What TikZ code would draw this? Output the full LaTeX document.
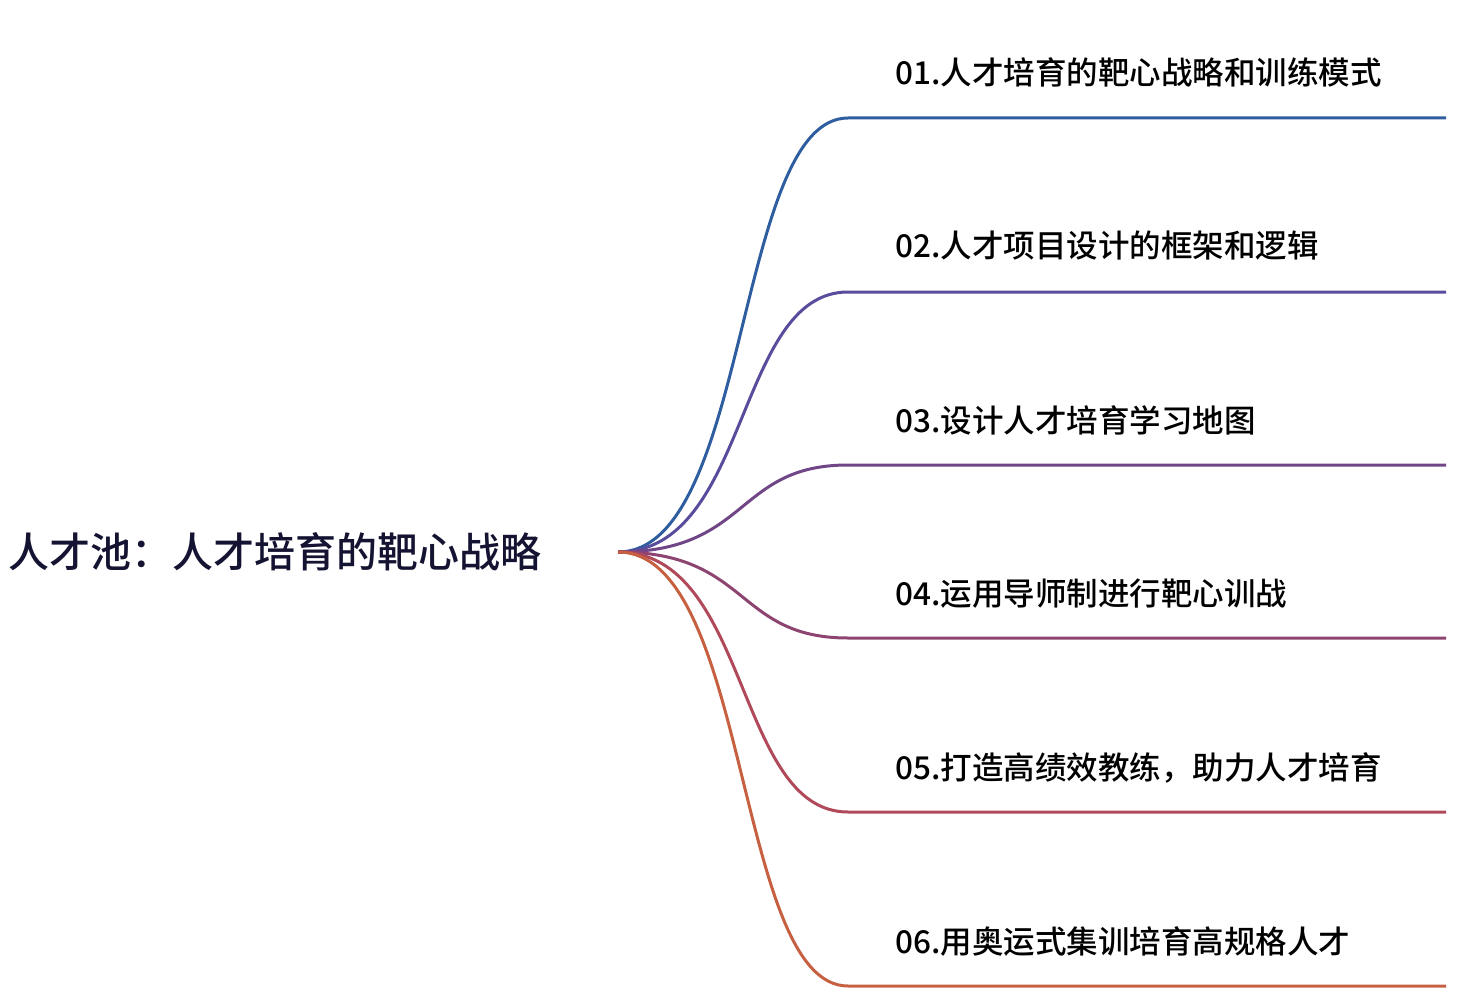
\documentclass[tikz,border=0pt]{standalone}
\usepackage{fontspec}
\setmainfont{Noto Sans CJK SC}[BoldFont={* Medium}]
\begin{document}
\begin{tikzpicture}[x=1pt, y=-1pt]

\tikzstyle{every node} = [inner sep=0pt, anchor=west]
\tikzstyle{lbl} = [font=\fontsize{31.5}{34}\selectfont\bfseries, text=black]
\tikzstyle{br} = [line width=3pt]

\useasboundingbox (0,0) rectangle (1474,1006);

\definecolor{c1}{RGB}{46,94,160}
\definecolor{c2}{RGB}{88,76,156}
\definecolor{c3}{RGB}{112,70,135}
\definecolor{c4}{RGB}{142,68,112}
\definecolor{c5}{RGB}{176,74,90}
\definecolor{c6}{RGB}{198,96,64}

\node (root) at (8,552) {\fontsize{41}{44}\selectfont\bfseries\color[RGB]{20,20,50}人才池：人才培育的靶心战略};
\coordinate (r) at (618,552);

\coordinate (a) at (848,118);
\coordinate (b) at (848,292);
\coordinate (c) at (848,465);
\coordinate (d) at (848,638);
\coordinate (e) at (848,812);
\coordinate (f) at (848,986);

\coordinate (a2) at (1446,118);
\coordinate (b2) at (1446,292);
\coordinate (c2) at (1446,465);
\coordinate (d2) at (1446,638);
\coordinate (e2) at (1446,812);
\coordinate (f2) at (1446,986);

\node[lbl] (la) at (895,72) {01.人才培育的靶心战略和训练模式};
\node[lbl] (lb) at (895,246) {02.人才项目设计的框架和逻辑};
\node[lbl] (lc) at (895,420) {03.设计人才培育学习地图};
\node[lbl] (ld) at (895,594) {04.运用导师制进行靶心训战};
\node[lbl] (le) at (895,768) {05.打造高绩效教练，助力人才培育};
\node[lbl] (lf) at (895,941) {06.用奥运式集训培育高规格人才};

\draw[br, c1] (r) .. controls (750,552) and (735,118) .. (a) -- (a2);
\draw[br, c2] (r) .. controls (750,552) and (735,292) .. (b) -- (b2);
\draw[br, c3] (r) .. controls (750,552) and (735,465) .. (c) -- (c2);
\draw[br, c4] (r) .. controls (750,552) and (735,638) .. (d) -- (d2);
\draw[br, c5] (r) .. controls (750,552) and (735,812) .. (e) -- (e2);
\draw[br, c6] (r) .. controls (750,552) and (735,986) .. (f) -- (f2);
\end{tikzpicture}
\end{document}
